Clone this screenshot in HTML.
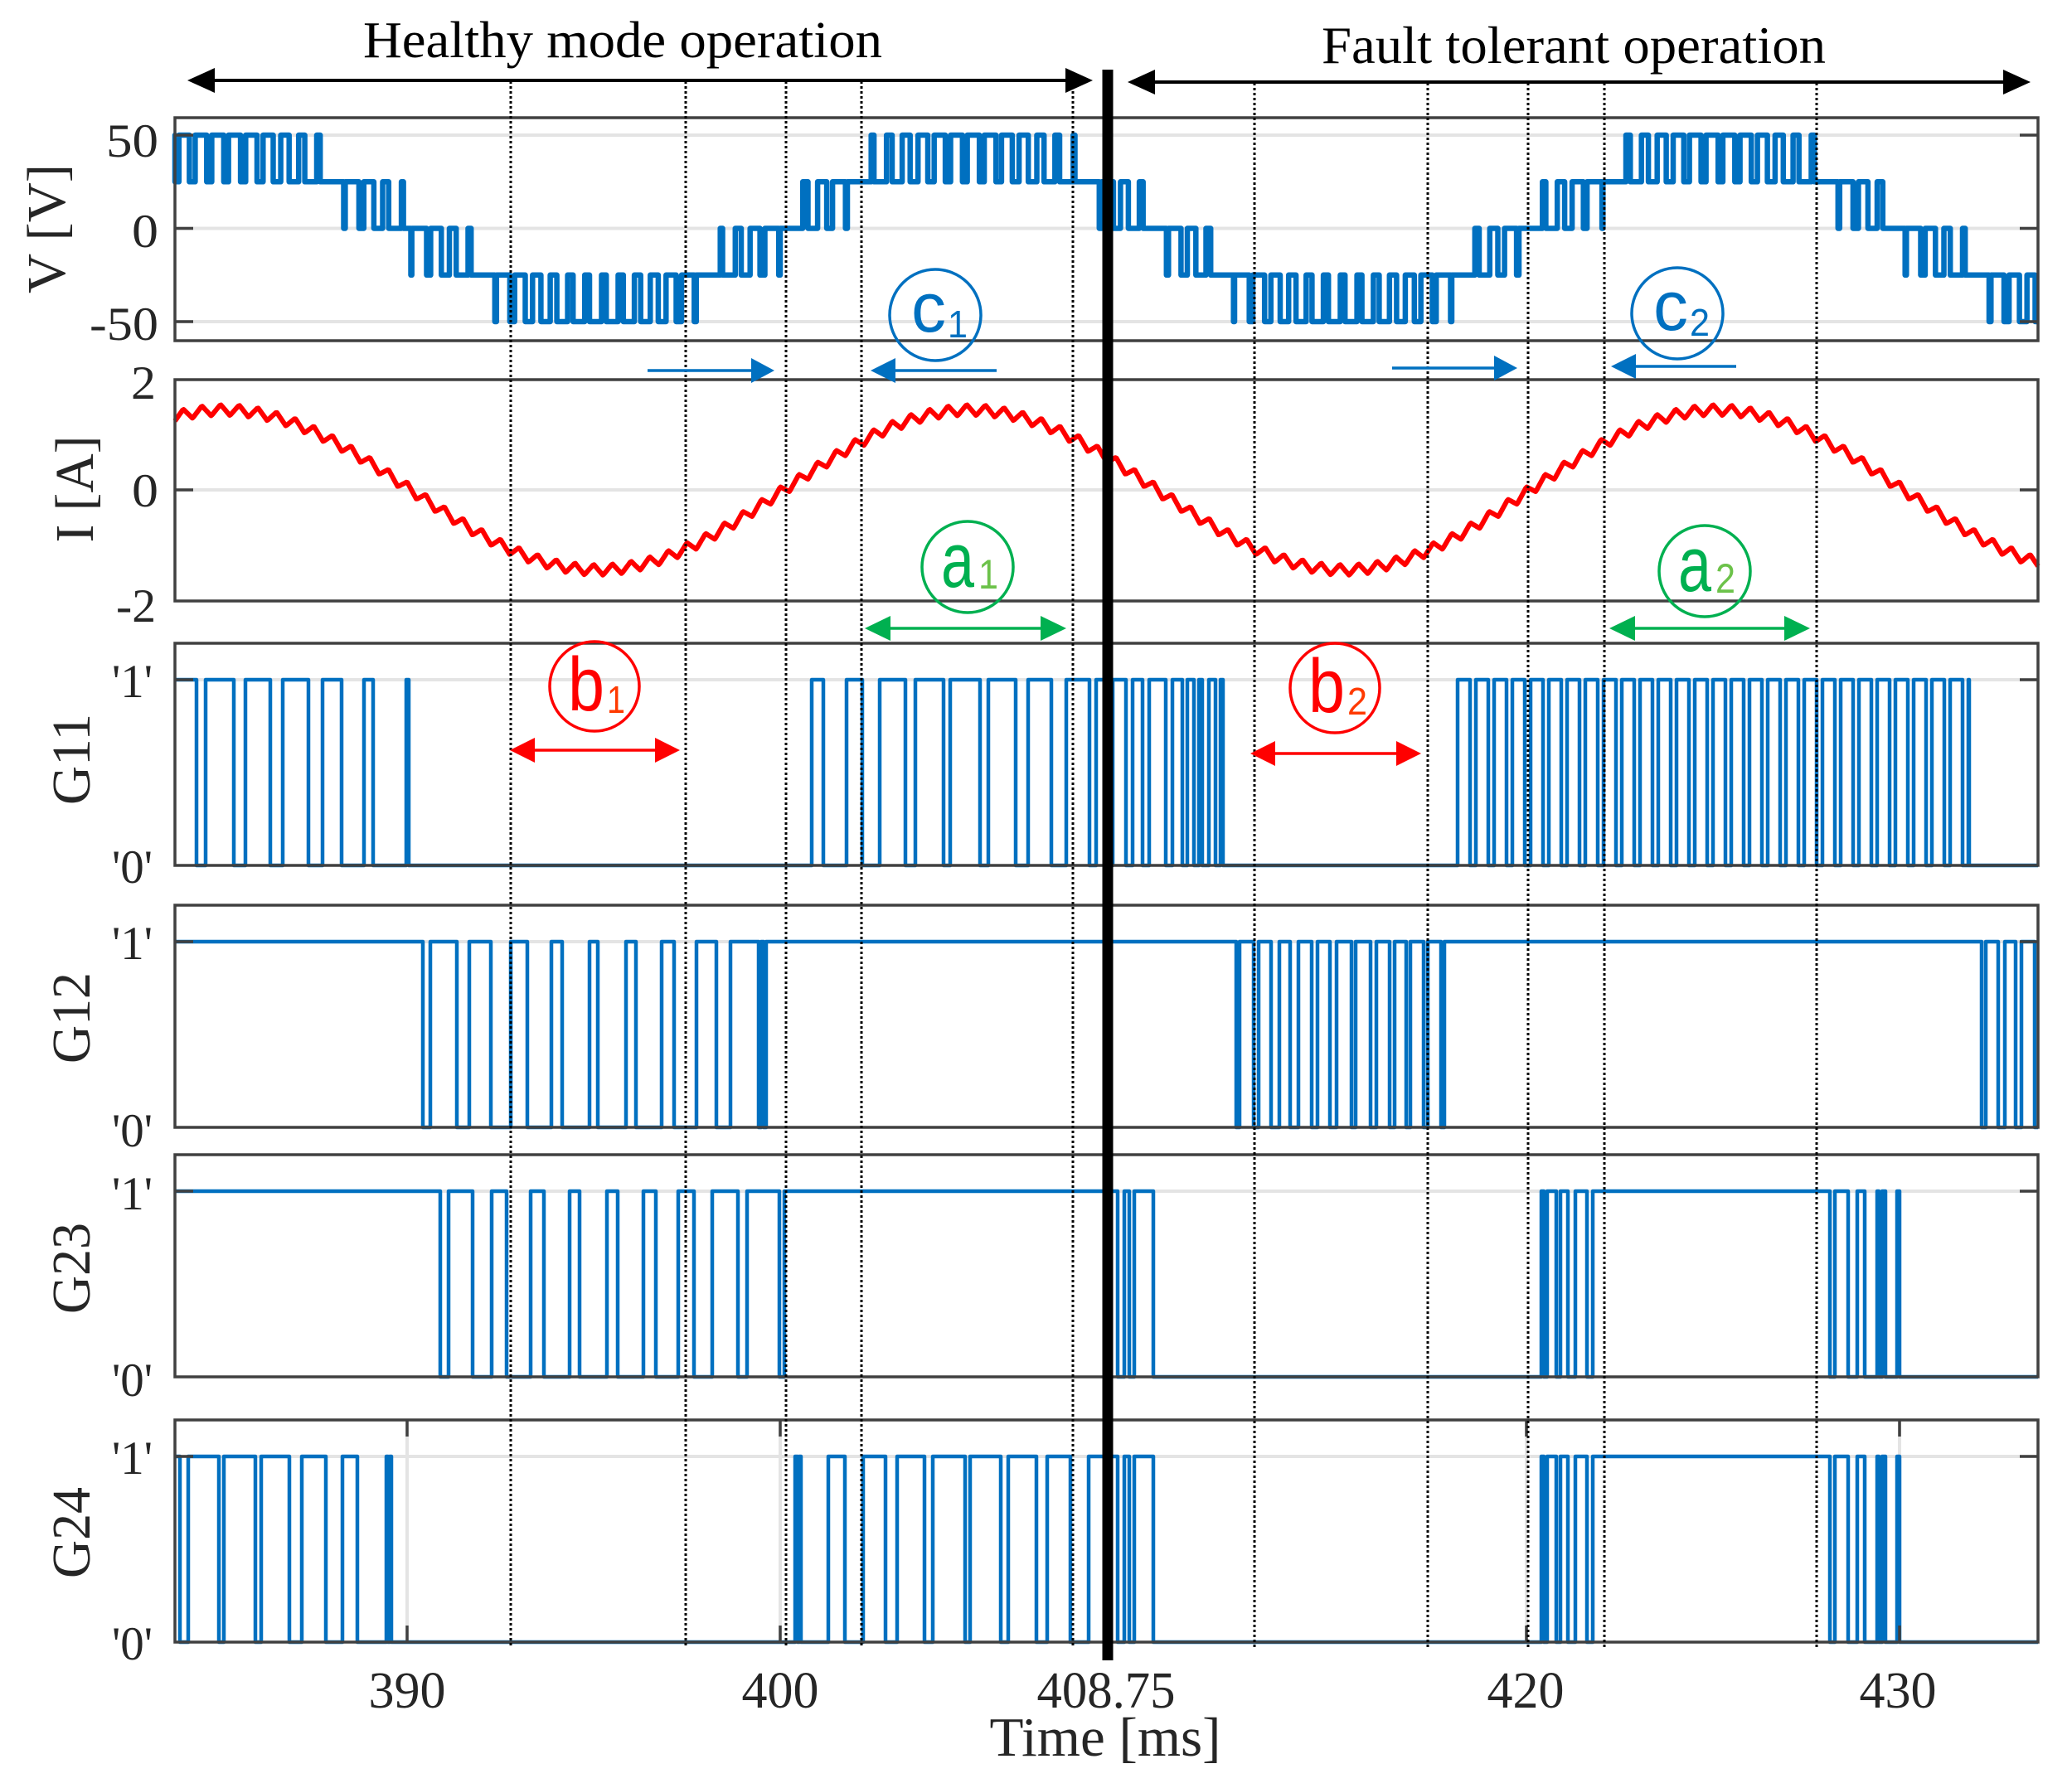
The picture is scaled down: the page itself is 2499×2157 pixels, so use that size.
<!DOCTYPE html>
<html><head><meta charset="utf-8"><style>
html,body{margin:0;padding:0;background:#fff;}
svg{display:block;}
text{font-family:"Liberation Serif","Times New Roman",serif;}
.s{font-family:"Liberation Sans",Arial,sans-serif;}
</style></head><body>
<svg id="svg" width="2499" height="2157" viewBox="0 0 2499 2157" xmlns="http://www.w3.org/2000/svg">
<rect width="2499" height="2157" fill="#fff"/>
<!-- grid -->
<g stroke="#e4e4e4" stroke-width="4">
 <line x1="211" y1="163" x2="2458" y2="163"/>
 <line x1="211" y1="275.5" x2="2458" y2="275.5"/>
 <line x1="211" y1="388" x2="2458" y2="388"/>
 <line x1="211" y1="591" x2="2458" y2="591"/>
 <line x1="211" y1="820" x2="2458" y2="820"/>
 <line x1="211" y1="1136" x2="2458" y2="1136"/>
 <line x1="211" y1="1437" x2="2458" y2="1437"/>
 <line x1="211" y1="1757" x2="2458" y2="1757"/>
 <line x1="491" y1="1713" x2="491" y2="1981"/>
 <line x1="941" y1="1713" x2="941" y2="1981"/>
 <line x1="1841" y1="1713" x2="1841" y2="1981"/>
 <line x1="2291" y1="1713" x2="2291" y2="1981"/>
</g>
<g id="tr"></g>
<!-- axes frames -->
<g fill="none" stroke="#404040" stroke-width="3.5">
 <rect x="211" y="142" width="2247" height="269"/>
 <rect x="211" y="458" width="2247" height="267"/>
 <rect x="211" y="776" width="2247" height="268"/>
 <rect x="211" y="1092" width="2247" height="268"/>
 <rect x="211" y="1393" width="2247" height="268"/>
 <rect x="211" y="1713" width="2247" height="268"/>
</g>
<!-- ticks -->
<g stroke="#404040" stroke-width="3.5">
 <path d="M211,163h22M211,275.5h22M211,388h22M211,591h22M211,820h22M211,1136h22M211,1437h22M211,1757h22"/>
 <path d="M2458,163h-22M2458,275.5h-22M2458,388h-22M2458,591h-22M2458,820h-22M2458,1136h-22M2458,1437h-22M2458,1757h-22"/>
 <path d="M491,1713v20M941,1713v20M1841,1713v20M2291,1713v20M491,1981v-20M941,1981v-20M1841,1981v-20M2291,1981v-20"/>
</g>
<!-- dotted lines -->
<g stroke="#000" stroke-width="3" stroke-dasharray="3 3">
 <line x1="616" y1="98" x2="616" y2="1988"/>
 <line x1="827" y1="98" x2="827" y2="1988"/>
 <line x1="948" y1="98" x2="948" y2="1988"/>
 <line x1="1039" y1="98" x2="1039" y2="1988"/>
 <line x1="1294" y1="98" x2="1294" y2="1988"/>
 <line x1="1513" y1="100" x2="1513" y2="1988"/>
 <line x1="1722" y1="100" x2="1722" y2="1988"/>
 <line x1="1843" y1="100" x2="1843" y2="1988"/>
 <line x1="1935" y1="100" x2="1935" y2="1988"/>
 <line x1="2191" y1="100" x2="2191" y2="1988"/>
</g>
<!-- thick fault line -->
<rect x="1329.5" y="84" width="13" height="1919" fill="#000"/>
<!-- top arrows -->
<g stroke="#000" stroke-width="4">
 <line x1="250" y1="97" x2="1295" y2="97"/>
 <line x1="1385" y1="99" x2="2425" y2="99"/>
</g>
<g fill="#000">
 <polygon points="226,97 259,82 259,112"/>
 <polygon points="1318,97 1285,82 1285,112"/>
 <polygon points="1360,99 1393,84 1393,114"/>
 <polygon points="2449,99 2416,84 2416,114"/>
</g>
<!-- titles -->
<text x="438" y="69" font-size="62" textLength="626" lengthAdjust="spacingAndGlyphs" fill="#000">Healthy mode operation</text>
<text x="1594" y="76" font-size="63" textLength="608" lengthAdjust="spacingAndGlyphs" fill="#000">Fault tolerant operation</text>
<!-- y tick labels -->
<g fill="#262626" font-size="57" text-anchor="end">
 <text x="191" y="189" textLength="63" lengthAdjust="spacingAndGlyphs">50</text>
 <text x="191" y="298" textLength="32" lengthAdjust="spacingAndGlyphs">0</text>
 <text x="191" y="410" textLength="83" lengthAdjust="spacingAndGlyphs">-50</text>
 <text x="188" y="481" textLength="30" lengthAdjust="spacingAndGlyphs">2</text>
 <text x="191" y="611" textLength="32" lengthAdjust="spacingAndGlyphs">0</text>
 <text x="188" y="750" textLength="48" lengthAdjust="spacingAndGlyphs">-2</text>
 <text x="184" y="841" textLength="49" lengthAdjust="spacingAndGlyphs">'1'</text>
 <text x="184" y="1065" textLength="49" lengthAdjust="spacingAndGlyphs">'0'</text>
 <text x="184" y="1157" textLength="49" lengthAdjust="spacingAndGlyphs">'1'</text>
 <text x="184" y="1383" textLength="49" lengthAdjust="spacingAndGlyphs">'0'</text>
 <text x="184" y="1459" textLength="49" lengthAdjust="spacingAndGlyphs">'1'</text>
 <text x="184" y="1684" textLength="49" lengthAdjust="spacingAndGlyphs">'0'</text>
 <text x="184" y="1778" textLength="49" lengthAdjust="spacingAndGlyphs">'1'</text>
 <text x="184" y="2002" textLength="49" lengthAdjust="spacingAndGlyphs">'0'</text>
</g>
<!-- y labels -->
<g fill="#262626" font-size="66" text-anchor="middle">
 <text transform="translate(78,276) rotate(-90)" textLength="156" lengthAdjust="spacingAndGlyphs">V [V]</text>
 <text transform="translate(112,590) rotate(-90)" textLength="129" lengthAdjust="spacingAndGlyphs">I [A]</text>
 <text transform="translate(108,916) rotate(-90)" textLength="110" lengthAdjust="spacingAndGlyphs">G11</text>
 <text transform="translate(108,1228) rotate(-90)" textLength="110" lengthAdjust="spacingAndGlyphs">G12</text>
 <text transform="translate(108,1530) rotate(-90)" textLength="110" lengthAdjust="spacingAndGlyphs">G23</text>
 <text transform="translate(108,1849) rotate(-90)" textLength="110" lengthAdjust="spacingAndGlyphs">G24</text>
</g>
<!-- x tick labels -->
<g fill="#262626" font-size="62" text-anchor="middle">
 <text x="491" y="2060">390</text>
 <text x="941" y="2060">400</text>
 <text x="1334" y="2060" textLength="167" lengthAdjust="spacingAndGlyphs">408.75</text>
 <text x="1840" y="2060">420</text>
 <text x="2289" y="2060">430</text>
 <text x="1333" y="2118" font-size="67" textLength="279" lengthAdjust="spacingAndGlyphs">Time [ms]</text>
</g>
<!-- annotations: c -->
<g stroke="#0070C0" stroke-width="3.5" fill="none">
 <circle cx="1128" cy="380" r="55"/>
 <circle cx="2023" cy="378" r="55"/>
 <line x1="781" y1="447" x2="910" y2="447"/>
 <line x1="1075" y1="447" x2="1202" y2="447"/>
 <line x1="1679" y1="444" x2="1806" y2="444"/>
 <line x1="1968" y1="442" x2="2094" y2="442"/>
</g>
<g fill="#0070C0">
 <polygon points="934,447 906,432 906,462"/>
 <polygon points="1050,447 1080,432 1080,462"/>
 <polygon points="1830,444 1802,429 1802,459"/>
 <polygon points="1943,442 1973,427 1973,457"/>
 <text class="s" x="1099" y="400" font-size="84" textLength="42" lengthAdjust="spacingAndGlyphs">c</text>
 <text class="s" x="1143" y="407" font-size="46" textLength="24" lengthAdjust="spacingAndGlyphs">1</text>
 <text class="s" x="1994" y="398" font-size="84" textLength="42" lengthAdjust="spacingAndGlyphs">c</text>
 <text class="s" x="2038" y="405" font-size="46" textLength="24" lengthAdjust="spacingAndGlyphs">2</text>
</g>
<!-- annotations: a -->
<g stroke="#00B050" stroke-width="3.5" fill="none">
 <circle cx="1167" cy="684" r="55"/>
 <circle cx="2056" cy="689" r="55"/>
 <line x1="1070" y1="758" x2="1260" y2="758"/>
 <line x1="1968" y1="758" x2="2157" y2="758"/>
</g>
<g fill="#00B050">
 <polygon points="1043,758 1074,743 1074,773"/>
 <polygon points="1286,758 1255,743 1255,773"/>
 <polygon points="1941,758 1972,743 1972,773"/>
 <polygon points="2183,758 2152,743 2152,773"/>
 <text class="s" x="1135" y="708" font-size="94" textLength="40" lengthAdjust="spacingAndGlyphs">a</text>
 <text class="s" x="2024" y="713" font-size="94" textLength="40" lengthAdjust="spacingAndGlyphs">a</text>
</g>
<g fill="#6CC24A">
 <text class="s" x="1180" y="710" font-size="50" textLength="24" lengthAdjust="spacingAndGlyphs">1</text>
 <text class="s" x="2069" y="715" font-size="50" textLength="24" lengthAdjust="spacingAndGlyphs">2</text>
</g>
<!-- annotations: b -->
<g stroke="#FF0000" stroke-width="3.5" fill="none">
 <circle cx="717" cy="828" r="54"/>
 <circle cx="1610" cy="830" r="54"/>
 <line x1="640" y1="905" x2="795" y2="905"/>
 <line x1="1533" y1="909" x2="1689" y2="909"/>
</g>
<g fill="#FF0000">
 <polygon points="615,905 645,890 645,920"/>
 <polygon points="820,905 790,890 790,920"/>
 <polygon points="1508,909 1538,894 1538,924"/>
 <polygon points="1714,909 1684,894 1684,924"/>
 <text class="s" x="685" y="857" font-size="92" textLength="44" lengthAdjust="spacingAndGlyphs">b</text>
 <text class="s" x="1578" y="859" font-size="92" textLength="44" lengthAdjust="spacingAndGlyphs">b</text>
</g>
<g fill="#FF3A00">
 <text class="s" x="732" y="860" font-size="46" textLength="22" lengthAdjust="spacingAndGlyphs">1</text>
 <text class="s" x="1625" y="862" font-size="46" textLength="24" lengthAdjust="spacingAndGlyphs">2</text>
</g>
</svg>
<script>
(function(){
const NS="http://www.w3.org/2000/svg";
const X=t=>941+(t-400)*45, T=x=>400+(x-941)/45;
const tr=document.getElementById('tr');
function addPath(d,stroke,w){const p=document.createElementNS(NS,'path');p.setAttribute('d',d);p.setAttribute('stroke',stroke);p.setAttribute('stroke-width',w);p.setAttribute('fill','none');p.setAttribute('stroke-linejoin','round');tr.appendChild(p);}
// Voltage
(function(){
 const Tc=0.45,M=1.72,t0=400.1,ts=T(211),te=T(2458);
 let d='',cur=null;
 const Y=l=>275.5-l*56.25;
 function step(t,l){let x=X(t);if(x<211)x=211;if(x>2458)x=2458;
  if(cur===null){d='M211,'+Y(l).toFixed(1);cur=l;return;}
  if(l!==cur){d+='H'+x.toFixed(1)+'V'+Y(l).toFixed(1);cur=l;}}
 for(let k=Math.floor((ts-400)/Tc)-1;;k++){
  const ta=400+k*Tc;if(ta>te)break;const tm=ta+Tc/2;
  const m=M*Math.sin(2*Math.PI*(tm-t0)/20);const l=Math.floor(m);const f=m-l;
  if(f<0.1)step(ta,l);else if(f>0.9)step(ta,l+1);
  else{step(ta,l);step(tm-f*Tc/2,l+1);step(tm+f*Tc/2,l);}
 }
 d+='H2458';addPath(d,'#0070C0',6.5);
})();
// Current
(function(){
 let d='';
 for(let x=211;x<=2458;x+=1.5){
  const t=T(x);let u=(t-400)/0.5;u=u-Math.floor(u);
  const tri=4*Math.abs(u-0.5)-1;
  const i=1.45*Math.sin(2*Math.PI*(t-400.1)/20)+0.1*tri;
  const y=591-i*66.5;
  d+=(d?'L':'M')+x.toFixed(1)+','+y.toFixed(1);
 }
 addPath(d,'#FF0000',6);
})();
// Gates
function dense(a,b,p,w){const r=[];for(let s=a;s<b;s+=p)r.push([s,Math.min(s+w,b)]);return r;}
function G(top,highs){
 const y1=top+44,y0=top+268;let d;
 if(highs[0][0]<=211){d='M211,'+y1;}else{d='M211,'+y0;}
 for(const [a,b] of highs){if(a>211){d+='H'+a+'V'+y1;}d+='H'+b+'V'+y0;}
 d+='H2458';addPath(d,'#0070C0',4.5);
}
G(776,[[211,237],[248,282],[296,326],[341,372],[389,412],[439,450],[490,493],
 [979,993],[1021,1040],[1061,1092],[1104,1138],[1146,1182],[1192,1225],[1240,1268],[1286,1314],[1322,1332],
 [1342,1358],[1366,1378],[1386,1406],[1414,1426],[1432,1440],[1446,1450],[1458,1466],[1472,1475]
].concat(dense(1758,2375,22,15)));
G(1092,[[211,510],[519,551],[566,592],[616,636],[665,678],[711,721],[755,767],[798,813],[840,864],[881,915],[918,921],
 [924,1491],[1495,1512],[1518,1533],[1543,1556],[1566,1582],[1589,1604],[1612,1630],[1635,1653],[1660,1676],[1682,1696],[1701,1717],[1722,1738],
 [1742,2390],[2395,2410],[2418,2431],[2438,2454]]);
G(1393,[[211,531],[541,570],[593,611],[640,656],[687,699],[732,745],[776,791],[818,837],[859,890],[901,940],
 [946,1348],[1356,1362],[1368,1391],
 [1859,1862],[1866,1877],[1882,1891],[1900,1914],[1921,2207],[2213,2229],[2240,2249],[2264,2266],[2270,2274],[2288,2291]]);
G(1713,[[211,217],[227,264],[270,308],[315,349],[364,393],[413,431],[466,468],[470,472],
 [959,962],[964,966],[999,1019],[1041,1068],[1082,1115],[1125,1164],[1170,1207],[1216,1250],[1263,1291],[1313,1348],[1356,1362],[1368,1391],
 [1859,1862],[1866,1877],[1882,1891],[1900,1914],[1921,2207],[2213,2229],[2240,2249],[2264,2266],[2270,2274],[2288,2291]]);
})();
</script>
</body></html>
